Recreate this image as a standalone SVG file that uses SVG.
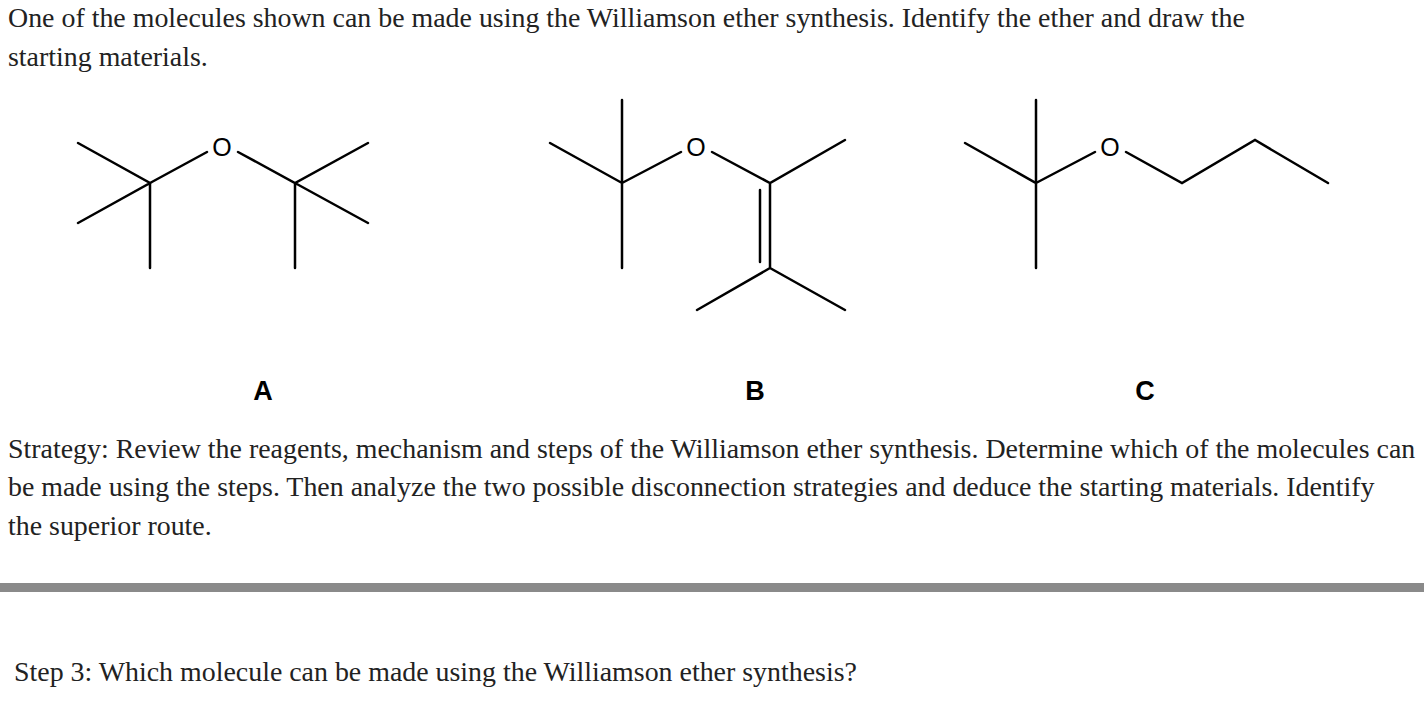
<svg xmlns="http://www.w3.org/2000/svg" width="1424" height="724" viewBox="0 0 1424 724">
<style>
.t{font-family:"Liberation Serif",serif;font-size:27.9px;fill:#222}
.o{font-family:"Liberation Sans",sans-serif;font-size:25px;fill:#000}
.l{font-family:"Liberation Sans",sans-serif;font-size:27px;font-weight:bold;fill:#000}
.b{stroke:#000;stroke-width:2.5;fill:none;stroke-linecap:round}
</style>
<rect width="1424" height="724" fill="#fff"/>
<text class="t" x="8" y="27">One of the molecules shown can be made using the Williamson ether synthesis. Identify the ether and draw the</text>
<text class="t" x="8" y="66">starting materials.</text>
<g id="molA">
<path class="b" d="M78,143L150,183L78,223M150,183L150,268M150,183L207,152M238,152L295,183L368,143M295,183L368,223M295,183L295,268"/>
<text class="o" x="222" y="156" text-anchor="middle">O</text>
</g>
<g id="molB">
<path class="b" d="M550,143L622,183L622,100M622,183L622,268M622,183L681,152M712,152L770,183L845,140M770,183L770,268M760,190L760,262M770,268L697,310M770,268L845,310"/>
<text class="o" x="696" y="156" text-anchor="middle">O</text>
</g>
<g id="molC">
<path class="b" d="M965,143L1036,183L1036,100M1036,183L1036,268M1036,183L1095,152M1126,152L1182,183L1255,140L1328,183"/>
<text class="o" x="1110" y="156" text-anchor="middle">O</text>
</g>
<text class="l" x="263" y="400" text-anchor="middle">A</text>
<text class="l" x="755" y="400" text-anchor="middle">B</text>
<text class="l" x="1145" y="400" text-anchor="middle">C</text>
<text class="t" x="8" y="458">Strategy: Review the reagents, mechanism and steps of the Williamson ether synthesis. Determine which of the molecules can</text>
<text class="t" x="8" y="496">be made using the steps. Then analyze the two possible disconnection strategies and deduce the starting materials. Identify</text>
<text class="t" x="8" y="535">the superior route.</text>
<rect x="0" y="583" width="1424" height="9" fill="#8a8a8a"/>
<text class="t" x="14" y="681">Step 3: Which molecule can be made using the Williamson ether synthesis?</text>
</svg>
